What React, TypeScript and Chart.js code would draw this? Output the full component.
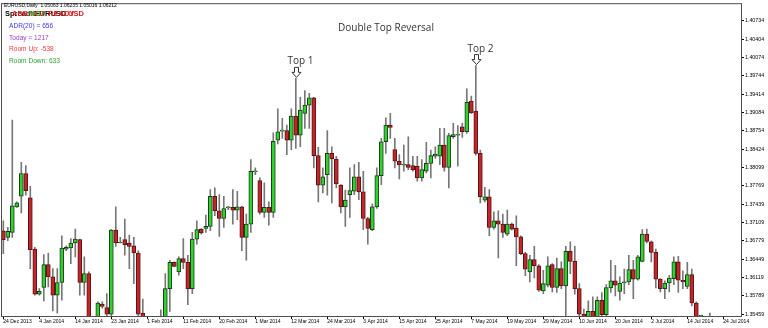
import React, { useEffect, useRef } from "react";
import { Chart, registerables } from "chart.js";

Chart.register(...registerables);

// Daily EURUSD candles, 24 Dec 2013 .. mid Jul 2014 (one entry per bar)
const OPEN = [
  1.3696, 1.3684, 1.3693, 1.3739, 1.3758, 1.3799, 1.3755, 1.3663, 1.3582, 1.3594,
  1.3635, 1.3613, 1.3580, 1.3603, 1.3663, 1.3665, 1.3674, 1.3680, 1.3603, 1.3619,
  1.3538, 1.3536, 1.3564, 1.3558, 1.3546, 1.3697, 1.3674, 1.3680, 1.3674, 1.3669,
  1.3656, 1.3548, 1.3510, 1.3505, 1.3515, 1.3525, 1.3535, 1.3592, 1.3639, 1.3622,
  1.3646, 1.3639, 1.3592, 1.3681, 1.3699, 1.3700, 1.3704, 1.3758, 1.3732, 1.3718,
  1.3737, 1.3738, 1.3733, 1.3739, 1.3684, 1.3708, 1.3802, 1.3786, 1.3729, 1.3738,
  1.3729, 1.3859, 1.3875, 1.3876, 1.3859, 1.3902, 1.3868, 1.3907, 1.3922, 1.3935,
  1.3831, 1.3778, 1.3797, 1.3835, 1.3825, 1.3778, 1.3739, 1.3761, 1.3767, 1.3793,
  1.3766, 1.3718, 1.3698, 1.3739, 1.3795, 1.3856, 1.3886, 1.3842, 1.3821, 1.3814,
  1.3815, 1.3813, 1.3812, 1.3791, 1.3803, 1.3817, 1.3830, 1.3830, 1.3850, 1.3810,
  1.3865, 1.3868, 1.3883, 1.3874, 1.3929, 1.3911, 1.3835, 1.3751, 1.3757, 1.3702,
  1.3714, 1.3708, 1.3690, 1.3708, 1.3701, 1.3685, 1.3655, 1.3622, 1.3644, 1.3633,
  1.3588, 1.3598, 1.3635, 1.3594, 1.3628, 1.3597, 1.3659, 1.3641, 1.3592, 1.3546,
  1.3535, 1.3551, 1.3538, 1.3571, 1.3545, 1.3593, 1.3606, 1.3587, 1.3602, 1.3604,
  1.3626, 1.3609, 1.3641, 1.3690, 1.3676, 1.3657, 1.3609, 1.3592, 1.3602, 1.3610,
  1.3640, 1.3607, 1.3596, 1.3617, 1.3566, 1.3525, 1.3525, 1.3520,
];
const HIGH = [
  1.3714, 1.3702, 1.3895, 1.3748, 1.3819, 1.3813, 1.3776, 1.3666, 1.3592, 1.3653,
  1.3656, 1.3628, 1.3628, 1.3687, 1.3669, 1.3682, 1.3699, 1.3681, 1.3649, 1.3622,
  1.3540, 1.3568, 1.3568, 1.3583, 1.3698, 1.3739, 1.3684, 1.3717, 1.3688, 1.3684,
  1.3660, 1.3573, 1.3530, 1.3525, 1.3540, 1.3554, 1.3619, 1.3643, 1.3640, 1.3649,
  1.3682, 1.3652, 1.3693, 1.3714, 1.3700, 1.3724, 1.3770, 1.3773, 1.3761, 1.3758,
  1.3740, 1.3770, 1.3767, 1.3740, 1.3726, 1.3824, 1.3809, 1.3791, 1.3782, 1.3748,
  1.3872, 1.3915, 1.3898, 1.3886, 1.3915, 1.3970, 1.3936, 1.3948, 1.3943, 1.3936,
  1.3846, 1.3809, 1.3876, 1.3847, 1.3830, 1.3779, 1.3769, 1.3809, 1.3815, 1.3819,
  1.3803, 1.3720, 1.3744, 1.3809, 1.3862, 1.3899, 1.3907, 1.3862, 1.3833, 1.3850,
  1.3865, 1.3830, 1.3830, 1.3824, 1.3855, 1.3841, 1.3847, 1.3880, 1.3880, 1.3871,
  1.3889, 1.3885, 1.3889, 1.3951, 1.3938, 1.3993, 1.3841, 1.3774, 1.3770, 1.3730,
  1.3732, 1.3726, 1.3733, 1.3710, 1.3723, 1.3687, 1.3657, 1.3652, 1.3668, 1.3635,
  1.3625, 1.3649, 1.3637, 1.3647, 1.3640, 1.3668, 1.3676, 1.3668, 1.3601, 1.3555,
  1.3570, 1.3577, 1.3577, 1.3585, 1.3599, 1.3643, 1.3634, 1.3613, 1.3627, 1.3652,
  1.3643, 1.3652, 1.3698, 1.3699, 1.3678, 1.3663, 1.3610, 1.3606, 1.3616, 1.3649,
  1.3650, 1.3624, 1.3639, 1.3627, 1.3568, 1.3540, 1.3538, 1.3548,
];
const LOW = [
  1.3655, 1.3678, 1.3684, 1.3738, 1.3728, 1.3760, 1.3628, 1.3580, 1.3580, 1.3570,
  1.3595, 1.3552, 1.3548, 1.3571, 1.3660, 1.3637, 1.3649, 1.3580, 1.3580, 1.3530,
  1.3530, 1.3530, 1.3557, 1.3539, 1.3542, 1.3668, 1.3674, 1.3652, 1.3628, 1.3601,
  1.3538, 1.3500, 1.3480, 1.3477, 1.3500, 1.3495, 1.3505, 1.3551, 1.3631, 1.3616,
  1.3628, 1.3563, 1.3583, 1.3672, 1.3690, 1.3693, 1.3696, 1.3723, 1.3686, 1.3702,
  1.3734, 1.3708, 1.3716, 1.3660, 1.3643, 1.3693, 1.3797, 1.3726, 1.3720, 1.3706,
  1.3720, 1.3852, 1.3862, 1.3833, 1.3842, 1.3844, 1.3847, 1.3880, 1.3880, 1.3809,
  1.3748, 1.3764, 1.3760, 1.3746, 1.3773, 1.3728, 1.3704, 1.3720, 1.3761, 1.3752,
  1.3698, 1.3672, 1.3696, 1.3736, 1.3779, 1.3835, 1.3862, 1.3809, 1.3789, 1.3803,
  1.3806, 1.3803, 1.3785, 1.3785, 1.3800, 1.3791, 1.3826, 1.3815, 1.3803, 1.3773,
  1.3862, 1.3812, 1.3864, 1.3871, 1.3907, 1.3832, 1.3746, 1.3748, 1.3687, 1.3699,
  1.3647, 1.3684, 1.3687, 1.3697, 1.3633, 1.3653, 1.3615, 1.3604, 1.3611, 1.3587,
  1.3583, 1.3595, 1.3586, 1.3585, 1.3592, 1.3503, 1.3619, 1.3582, 1.3540, 1.3525,
  1.3528, 1.3530, 1.3530, 1.3535, 1.3540, 1.3585, 1.3579, 1.3571, 1.3583, 1.3599,
  1.3574, 1.3607, 1.3640, 1.3674, 1.3640, 1.3593, 1.3586, 1.3574, 1.3586, 1.3599,
  1.3585, 1.3592, 1.3592, 1.3561, 1.3510, 1.3510, 1.3500, 1.3500,
];
const CLOSE = [
  1.3680, 1.3695, 1.3741, 1.3746, 1.3799, 1.3768, 1.3662, 1.3582, 1.3587, 1.3635,
  1.3613, 1.3580, 1.3603, 1.3665, 1.3666, 1.3674, 1.3681, 1.3603, 1.3619, 1.3538,
  1.3536, 1.3566, 1.3560, 1.3546, 1.3697, 1.3674, 1.3675, 1.3671, 1.3668, 1.3656,
  1.3546, 1.3510, 1.3505, 1.3515, 1.3525, 1.3535, 1.3592, 1.3639, 1.3632, 1.3646,
  1.3639, 1.3592, 1.3681, 1.3698, 1.3692, 1.3704, 1.3758, 1.3732, 1.3718, 1.3736,
  1.3738, 1.3733, 1.3739, 1.3684, 1.3708, 1.3803, 1.3803, 1.3729, 1.3738, 1.3729,
  1.3857, 1.3874, 1.3876, 1.3859, 1.3902, 1.3868, 1.3913, 1.3922, 1.3935, 1.3831,
  1.3778, 1.3793, 1.3835, 1.3825, 1.3780, 1.3739, 1.3751, 1.3768, 1.3793, 1.3766,
  1.3718, 1.3700, 1.3739, 1.3795, 1.3856, 1.3886, 1.3882, 1.3821, 1.3815, 1.3815,
  1.3810, 1.3806, 1.3791, 1.3806, 1.3817, 1.3831, 1.3834, 1.3850, 1.3810, 1.3867,
  1.3869, 1.3869, 1.3874, 1.3927, 1.3908, 1.3835, 1.3757, 1.3757, 1.3702, 1.3714,
  1.3708, 1.3693, 1.3708, 1.3699, 1.3685, 1.3655, 1.3627, 1.3644, 1.3633, 1.3589,
  1.3601, 1.3633, 1.3594, 1.3628, 1.3597, 1.3659, 1.3641, 1.3592, 1.3546, 1.3535,
  1.3551, 1.3538, 1.3571, 1.3545, 1.3594, 1.3606, 1.3598, 1.3602, 1.3604, 1.3626,
  1.3609, 1.3649, 1.3690, 1.3677, 1.3657, 1.3609, 1.3592, 1.3602, 1.3611, 1.3640,
  1.3607, 1.3604, 1.3617, 1.3566, 1.3525, 1.3525, 1.3520, 1.3512,
];

const X_TICK_LABELS = [
  "24 Dec 2013", "4 Jan 2014", "14 Jan 2014", "23 Jan 2014", "1 Feb 2014",
  "11 Feb 2014", "20 Feb 2014", "1 Mar 2014", "12 Mar 2014", "24 Mar 2014",
  "3 Apr 2014", "15 Apr 2014", "25 Apr 2014", "7 May 2014", "19 May 2014",
  "29 May 2014", "10 Jun 2014", "20 Jun 2014", "2 Jul 2014", "14 Jul 2014",
  "24 Jul 2014",
];
const X_TICK_STEP = 8; // bars between date labels

const Y_TICK_VALUES = [
  1.40734, 1.40404, 1.40074, 1.39744, 1.39414, 1.39084, 1.38754, 1.38424,
  1.38099, 1.37769, 1.37439, 1.37109, 1.36779, 1.36449, 1.36119, 1.35789, 1.35459,
];
const Y_MIN = 1.35427;
const Y_MAX = 1.41034;
const X_MIN = -0.29;
const X_MAX = 163.93;

const TITLE = "Double Top Reversal";
const PEAK_INDEX = [65, 105];
const PEAK_LABELS = ["Top 1", "Top 2"];

const HEADER = "EURUSD,Daily  1.05063 1.06235 1.05016 1.06212";
const INFO_TEXT = ["ADR(20) = 656", "Today = 1217", "Room Up: -538", "Room Down: 633"];
const INFO_COLORS = ["#3b3bf0", "#9a3fc4", "#f03c3c", "#2f9e2f"];

const overlayPlugin = {
  id: "overlay",
  afterDraw(chart: any) {
    const { ctx, chartArea, scales } = chart;
    ctx.save();
    // plot frame
    ctx.strokeStyle = "#505050";
    ctx.lineWidth = 1;
    ctx.strokeRect(
      chartArea.left - 0.5,
      chartArea.top - 0.5,
      chartArea.right - chartArea.left + 1,
      chartArea.bottom - chartArea.top + 1
    );

    // title
    ctx.fillStyle = "#333333";
    ctx.font = "10px 'Open Sans'";
    ctx.textAlign = "center";
    ctx.textBaseline = "alphabetic";
    ctx.fillText(TITLE, 386, 31);

    // peak annotations
    PEAK_INDEX.forEach((idx, k) => {
      const cx = Math.round(scales.x.getPixelForValue(idx)) + 0.5;
      const tip = scales.y.getPixelForValue(HIGH[idx]) - 1;
      ctx.beginPath();
      ctx.moveTo(cx - 2, tip - 10);
      ctx.lineTo(cx + 2, tip - 10);
      ctx.lineTo(cx + 2, tip - 5);
      ctx.lineTo(cx + 4.5, tip - 5);
      ctx.lineTo(cx, tip);
      ctx.lineTo(cx - 4.5, tip - 5);
      ctx.lineTo(cx - 2, tip - 5);
      ctx.closePath();
      ctx.fillStyle = "#ffffff";
      ctx.fill();
      ctx.strokeStyle = "#333333";
      ctx.stroke();
      ctx.fillStyle = "#333333";
      ctx.font = "10px 'Open Sans'";
      ctx.textAlign = "center";
      ctx.fillText(PEAK_LABELS[k], cx + 4, tip - 13);
    });

    // info block (top-left)
    ctx.textAlign = "left";
    ctx.textBaseline = "middle";
    ctx.fillStyle = "#000000";
    ctx.font = "5px 'Liberation Sans'";
    ctx.fillText(HEADER, 4, 6);

    ctx.font = "bold 7.5px 'Liberation Sans'";
    ctx.fillStyle = "#000000";
    ctx.fillText("Spread  EURUSD", 5, 14);
    ctx.fillStyle = "#e02020";
    ctx.fillText("ADR NOT READY", 12, 14);
    ctx.fillStyle = "#30b030";
    ctx.fillText("NOT", 29, 14);
    ctx.fillStyle = "#e02020";
    ctx.fillText("USD", 68, 14);

    ctx.font = "6.6px 'Liberation Sans'";
    INFO_TEXT.forEach((t, k) => {
      ctx.fillStyle = INFO_COLORS[k];
      ctx.fillText(t, 9, 26.5 + k * 11.5);
    });
    ctx.restore();
  },
};

export default function App() {
  const ref = useRef<HTMLCanvasElement>(null);

  useEffect(() => {
    document.body.style.margin = "0";
    const idx = OPEN.map((_, i) => i);
    const up = idx.map((i) => CLOSE[i] >= OPEN[i]);
    const chart = new Chart(ref.current as HTMLCanvasElement, {
      type: "bar",
      data: {
        datasets: [
          {
            label: "wick",
            data: idx.map((i) => ({ x: i, y: [LOW[i], HIGH[i]] })) as any,
            backgroundColor: "#777777",
            borderWidth: 0,
            barThickness: 1,
            grouped: false,
            order: 2,
          } as any,
          {
            label: "body",
            data: idx.map((i) => ({ x: i, y: [OPEN[i], CLOSE[i]] })) as any,
            backgroundColor: up.map((u) => (u ? "#2ed12e" : "#c0272d")),
            borderColor: up.map((u) => (u ? "#1e3a1e" : "#5e1212")),
            borderWidth: 1,
            borderSkipped: false,
            barThickness: 4,
            minBarLength: 1,
            grouped: false,
            order: 1,
          } as any,
        ],
      },
      options: {
        responsive: false,
        maintainAspectRatio: false,
        animation: false,
        layout: { padding: { left: 2, top: 2, right: 0, bottom: 0 } },
        plugins: {
          legend: { display: false },
          tooltip: { enabled: false },
          title: { display: false },
        },
        scales: {
          x: {
            type: "linear",
            min: X_MIN,
            max: X_MAX,
            offset: false,
            afterBuildTicks: (s: any) => {
              s.ticks = X_TICK_LABELS.map((_, k) => ({ value: k * X_TICK_STEP }));
            },
            afterFit: (s: any) => {
              s.height = 12;
            },
            ticks: {
              autoSkip: false,
              maxRotation: 0,
              minRotation: 0,
              align: "start",
              padding: 0,
              color: "#000000",
              font: { size: 5, family: "'Liberation Sans'" },
              callback: (v: any) => X_TICK_LABELS[Math.round(Number(v) / X_TICK_STEP)] ?? "",
            },
            grid: { drawOnChartArea: false, drawTicks: true, tickLength: 3, color: "#000000", offset: false },
            border: { display: false },
          },
          y: {
            type: "linear",
            position: "right",
            min: Y_MIN,
            max: Y_MAX,
            afterBuildTicks: (s: any) => {
              s.ticks = Y_TICK_VALUES.map((v) => ({ value: v }));
            },
            afterFit: (s: any) => {
              s.width = 27;
            },
            ticks: {
              padding: 1,
              color: "#000000",
              font: { size: 5.3, family: "'Liberation Sans'" },
              callback: (v: any) => Number(v).toFixed(5),
            },
            grid: { drawOnChartArea: false, drawTicks: true, tickLength: 3, color: "#000000" },
            border: { display: false },
          },
        },
      } as any,
      plugins: [overlayPlugin],
    });
    return () => chart.destroy();
  }, []);

  return (
    <div style={{ position: "fixed", left: 0, top: 0, width: 768, height: 328, background: "#ffffff" }}>
      <canvas ref={ref} width={768} height={328} style={{ display: "block" }} />
    </div>
  );
}
